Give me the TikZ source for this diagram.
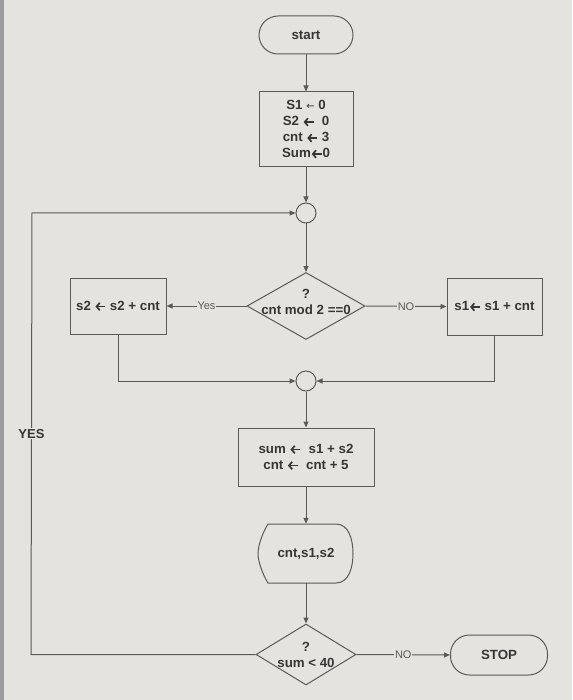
\documentclass[tikz,border=0pt]{standalone}
\usepackage{fontspec}
\setmainfont{Liberation Sans}
\newfontfamily\arrowfont{DejaVu Sans}
\usetikzlibrary{shapes.geometric,arrows.meta}
\definecolor{bg}{HTML}{E4E3DF}
\definecolor{ln}{HTML}{5A5A5A}
\definecolor{tx}{HTML}{363636}
\newcommand{\la}{\tikz[baseline=-3.6pt]{\draw[tx, line width=1.7pt, {Straight Barb[length=3.2pt,width=7.5pt]}-] (0pt,0pt) -- (10pt,0pt);}}
\newcommand{\lathin}{{\arrowfont\mdseries\fontsize{10}{12}\selectfont ←}}
\begin{document}
\begin{tikzpicture}[x=1pt,y=-1pt,
  box/.style={draw=ln, line width=1pt, text=tx, font=\bfseries\fontsize{13.3}{16}\selectfont, align=center, inner sep=0pt},
  pill/.style={box, rounded corners=19pt},
  conn/.style={draw=ln, line width=1pt},
  arr/.style={conn, -{Triangle[length=6pt,width=5pt]}},
  lbl/.style={fill=bg, text=ln, font=\fontsize{11}{12}\selectfont, inner sep=0.8pt},
  junction/.style={circle, draw=ln, line width=1pt, minimum size=20pt, inner sep=0pt},
  dia/.style={diamond, draw=ln, line width=1pt, inner sep=0pt},
  dtext/.style={text=tx, font=\bfseries\fontsize{13.3}{16}\selectfont, align=center, inner sep=0pt}
]
\fill[bg] (0,0) rectangle (572,700);
\useasboundingbox (0,0) rectangle (572,700);
\fill[ln!60] (0,0) rectangle (4,700);

% nodes
\node[pill, minimum width=94pt, minimum height=38pt] (start) at (306,35) {start};
\node[box, minimum width=94pt, minimum height=75pt] (init) at (306,129.5)
  {S1 \lathin\ 0\\S2 \la\ \ 0\\cnt \la\ 3\\Sum\la0};
\node[junction] (c1) at (306,213) {};
\node[dia, minimum width=118pt, minimum height=67pt] (d1) at (306,306) {};
\node[dtext] (d1t) at (306,302) {?\\cnt mod 2 ==0};
\node[box, minimum width=96pt, minimum height=56pt] (lbox) at (118,306) {s2 \la\ s2 + cnt};
\node[box, minimum width=95pt, minimum height=57pt] (rbox) at (494.5,306.5) {s1\la\ s1 + cnt};
\node[junction] (c2) at (306,381) {};
\node[box, minimum width=136pt, minimum height=58pt] (b3) at (306,457)
  {sum \la\ \ s1 + s2\\cnt \la\ \ cnt + 5};
\node[minimum width=95pt, minimum height=59pt, inner sep=0pt, text=tx,
  font=\bfseries\fontsize{13.3}{16}\selectfont] (disp) at (306,553.5) {cnt,s1,s2};
\draw[conn] (268,524) -- (336,524)
  .. controls (349,524) and (353,540) .. (353,553.5)
  .. controls (353,567) and (349,583) .. (336,583)
  -- (268,583)
  .. controls (263,575) and (258,562) .. (258,553.5)
  .. controls (258,545) and (263,532) .. (268,524) -- cycle;
\node[dia, minimum width=100pt, minimum height=61pt] (d2) at (306,654.5) {};
\node[dtext] (d2t) at (306,654.5) {?\\sum < 40};
\node[pill, minimum width=97pt, minimum height=40pt] (stop) at (499,655) {STOP};

\coordinate (lb) at (31,654.5);
\coordinate (lt) at (32,213);

% connectors
\draw[arr] (start.south) -- (init.north);
\draw[arr] (init.south) -- (c1.north);
\draw[arr] (c1.south) -- (d1.north);
\draw[arr] (d1.west) -- node[lbl] {Yes} (lbox.east);
\draw[arr] (d1.east) -- node[lbl] {NO} (rbox.west);
\draw[arr] (lbox.south) |- (c2.west);
\draw[arr] (rbox.south) |- (c2.east);
\draw[arr] (c2.south) -- (b3.north);
\draw[arr] (b3.south) -- (disp.north);
\draw[arr] (disp.south) -- (d2.north);
\draw[arr] (d2.west) -- (lb) -- node[pos=0.5, fill=bg, text=tx, inner sep=1pt,
  font=\bfseries\fontsize{13}{15}\selectfont] {YES} (lt) -- (c1.west);
\draw[arr] (d2.east) -- node[lbl] {NO} (stop.west);
\end{tikzpicture}
\end{document}
